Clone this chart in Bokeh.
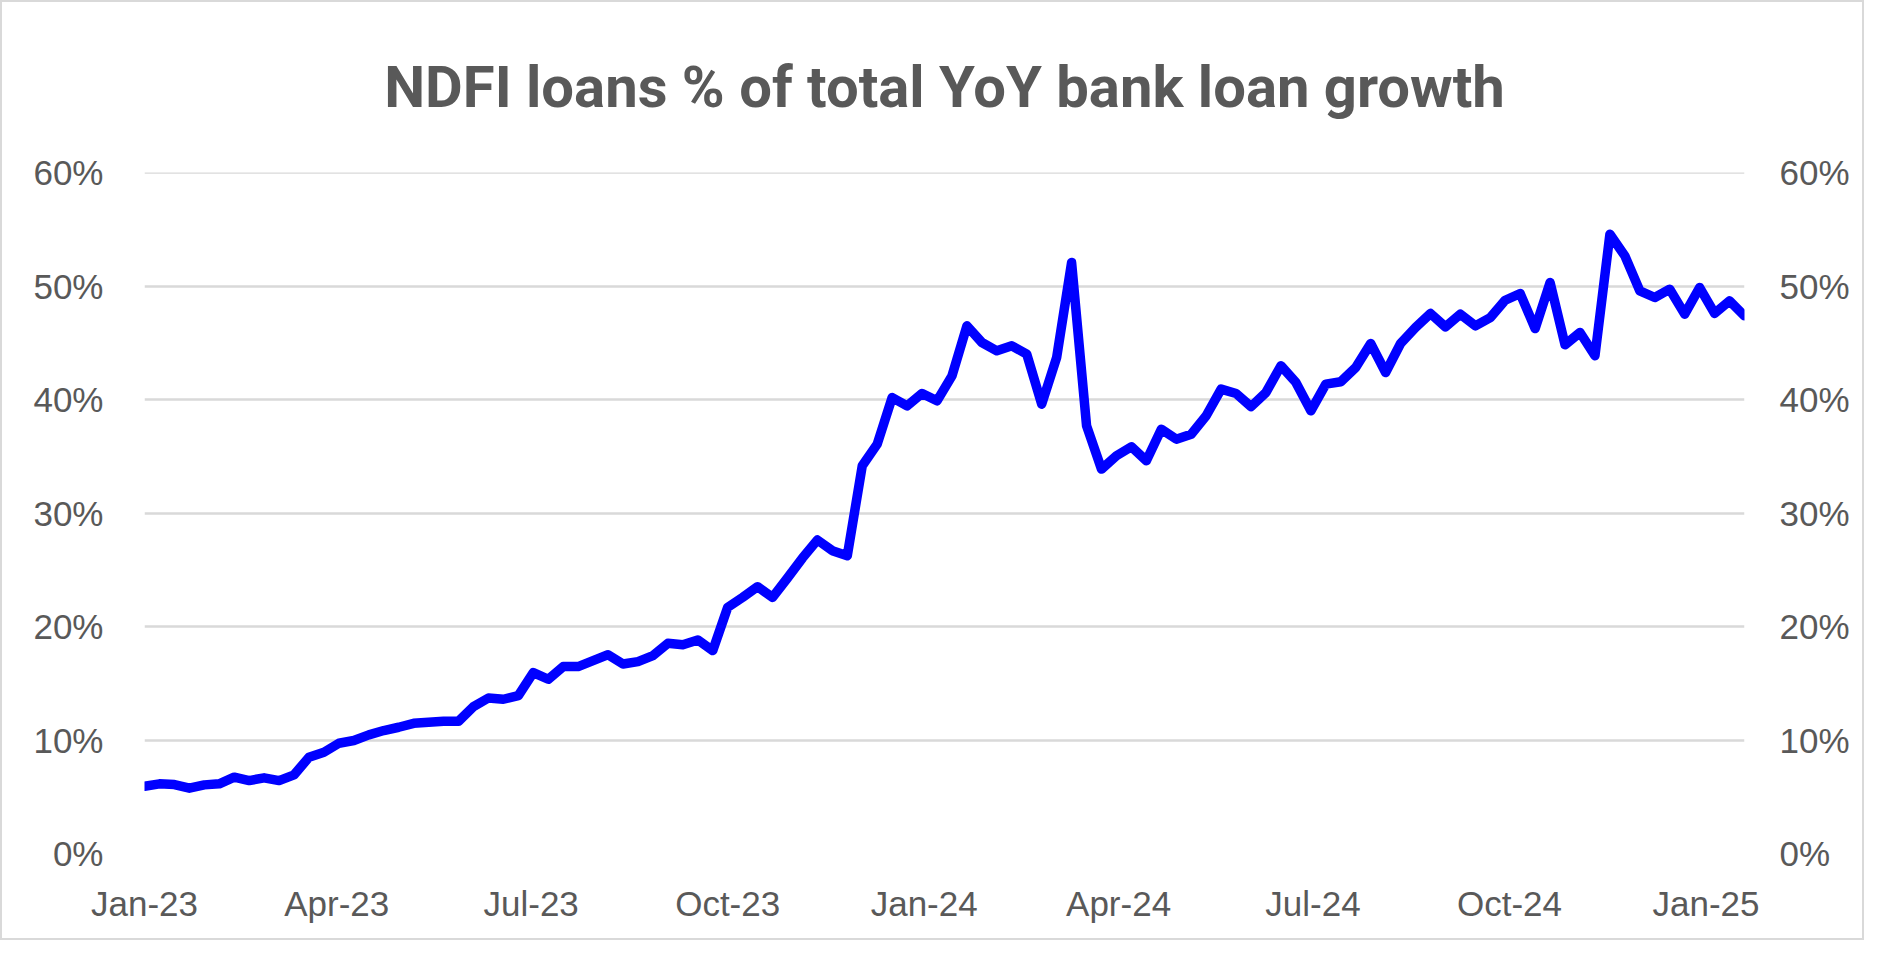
import pandas as pd
from bokeh.plotting import figure
from bokeh.models import (LinearAxis, FixedTicker, NumeralTickFormatter,
                          DatetimeTickFormatter, Range1d)
from bokeh.embed import file_html
from bokeh.resources import INLINE

title_text = "NDFI loans % of total YoY bank loan growth"

# weekly observations (Wednesdays), Jan 2023 - Jan 2025
start_date = "2023-01-04"
n_weeks = 108

ndfi_share_pct = [
    5.93, 6.14, 6.08, 5.76, 6.05, 6.14, 6.73, 6.43, 6.67, 6.43,
    6.93, 8.49, 8.93, 9.72, 9.96, 10.46, 10.84, 11.13, 11.48, 11.57,
    11.66, 11.66, 12.95, 13.71, 13.60, 13.92, 15.95, 15.36, 16.48, 16.48,
    17.00, 17.53, 16.71, 16.92, 17.44, 18.53, 18.41, 18.83, 17.89, 21.70,
    22.58, 23.52, 22.58, 24.29, 26.05, 27.64, 26.70, 26.26, 34.19, 36.09,
    40.20, 39.47, 40.56, 39.91, 42.11, 46.52, 45.05, 44.32, 44.76, 44.02,
    39.62, 43.73, 52.10, 37.71, 33.89, 35.07, 35.86, 34.63, 37.41, 36.53,
    36.97, 38.59, 40.94, 40.56, 39.40, 40.65, 43.00, 41.53, 39.03, 41.38,
    41.59, 42.85, 44.96, 42.41, 44.96, 46.37, 47.61, 46.43, 47.55, 46.52,
    47.25, 48.78, 49.37, 46.28, 50.34, 44.85, 45.93, 43.88, 54.60, 52.69,
    49.60, 49.02, 49.75, 47.55, 49.90, 47.61, 48.72, 47.40,
]

x_tick_dates = ["2023-01-04", "2023-04-04", "2023-07-04", "2023-10-04",
                "2024-01-04", "2024-04-04", "2024-07-04", "2024-10-04",
                "2025-01-04"]
y_ticks = [0, 0.1, 0.2, 0.3, 0.4, 0.5, 0.6]

dates = pd.date_range(start_date, periods=n_weeks, freq="7D")
values = [v / 100.0 for v in ndfi_share_pct]

TEXT = "#595959"
GRID = "#D9D9D9"

p = figure(width=1864, height=940, x_axis_type="datetime",
           output_backend="svg", toolbar_location=None,
           x_range=Range1d(dates[0], dates[-1]),
           y_range=Range1d(0, 0.6004),
           min_border_left=142, min_border_right=122,
           min_border_top=170, min_border_bottom=89)
p.styles = {"border": "2px solid #D9D9D9"}
p.outline_line_color = None
p.background_fill_color = "white"
p.border_fill_color = "white"

p.title.text = title_text
p.title.align = "center"
p.title.vertical_align = "top"
p.title.text_font = "Roboto"
p.title.text_font_style = "bold"
p.title.text_font_size = "58px"
p.title.text_color = TEXT
p.title.standoff = 99

p.line(dates, values, line_color="#0000FF", line_width=9.5,
       line_join="round", line_cap="round")

tick_ms = [pd.Timestamp(d).value / 1e6 for d in x_tick_dates]

xa = p.xaxis[0]
xa.ticker = FixedTicker(ticks=tick_ms)
xa.formatter = DatetimeTickFormatter(days="%b-%y", months="%b-%y", years="%b-%y")

ya = p.yaxis[0]
ya.ticker = FixedTicker(ticks=y_ticks)
ya.formatter = NumeralTickFormatter(format="0%")

ry = LinearAxis(ticker=FixedTicker(ticks=y_ticks),
                formatter=NumeralTickFormatter(format="0%"))
p.add_layout(ry, "right")

for ax in [xa, ya, ry]:
    ax.axis_line_color = None
    ax.major_tick_line_color = None
    ax.minor_tick_line_color = None
    ax.major_tick_out = 0
    ax.major_tick_in = 0
    ax.major_label_text_font = "Liberation Sans"
    ax.major_label_text_font_size = "35px"
    ax.major_label_text_color = TEXT

xa.major_label_standoff = 30
ya.major_label_standoff = 41
ry.major_label_standoff = 35

p.xgrid.grid_line_color = None
p.ygrid.ticker = FixedTicker(ticks=y_ticks)
p.ygrid.grid_line_color = GRID
p.ygrid.grid_line_width = 2.5

open("out.html", "w").write(file_html(p, INLINE))
